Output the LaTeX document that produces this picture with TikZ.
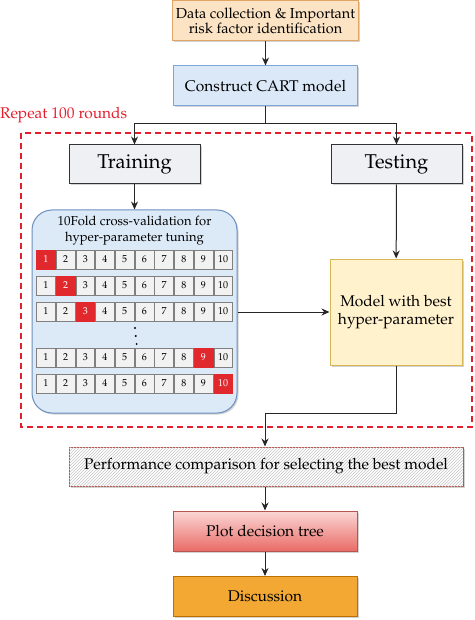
\documentclass[tikz,border=0pt]{standalone}
\usepackage[T1]{fontenc}
\usepackage{mathpazo}
\usepackage{tikz}
\usetikzlibrary{arrows.meta,shadows,patterns}
\definecolor{dataorange}{RGB}{251,227,195}
\definecolor{dataedge}{RGB}{224,165,100}
\definecolor{cartblue}{RGB}{218,232,248}
\definecolor{cartedge}{RGB}{126,166,216}
\definecolor{stepgray}{RGB}{238,240,244}
\definecolor{cvblue}{RGB}{220,234,248}
\definecolor{cvedge}{RGB}{108,142,191}
\definecolor{cellgray}{RGB}{242,242,242}
\definecolor{cellred}{RGB}{224,40,45}
\definecolor{modelyellow}{RGB}{255,242,204}
\definecolor{modeledge}{RGB}{214,182,86}
\definecolor{perfedge}{RGB}{184,84,80}
\definecolor{plottop}{RGB}{250,215,214}
\definecolor{plotbot}{RGB}{234,107,102}
\definecolor{discorange}{RGB}{242,168,50}
\definecolor{discedge}{RGB}{189,112,0}
\definecolor{repeatred}{RGB}{228,30,45}
\tikzset{
  boxshadow/.style={drop shadow={opacity=0.35, shadow xshift=1.5pt, shadow yshift=-1.5pt, fill=gray}},
  flowbox/.style={draw, line width=1pt, align=center, minimum width=184pt,
    minimum height=40pt, font=\fontsize{15.5}{18}\selectfont, boxshadow},
  stepbox/.style={flowbox, draw=black!80, fill=stepgray, minimum width=131pt,
    minimum height=39pt, font=\fontsize{20}{23}\selectfont},
  cell/.style={draw=gray, fill=cellgray, minimum width=18.8pt, minimum height=18.5pt,
    inner sep=0pt, font=\fontsize{10}{11}\selectfont,
    drop shadow={opacity=0.3, shadow xshift=0.8pt, shadow yshift=-0.8pt, fill=gray}},
  redcell/.style={cell, draw=cellred, fill=cellred, text=white},
  flow/.style={-{Stealth[length=8pt,width=7pt]}, line width=1pt, black!85},
}
\begin{document}
\begin{tikzpicture}[x=1pt, y=-1pt]
\useasboundingbox (0,0) rectangle (474,620);

% Repeat frame
\draw[repeatred, line width=1.4pt, dash pattern=on 6pt off 4pt] (21,133) rectangle (472,427);
\node[anchor=west, text=repeatred, font=\fontsize{15.5}{18}\selectfont, inner sep=0pt] (repeat) at (0,115) {Repeat 100 rounds};

% Top of the flow
\node[flowbox, draw=dataedge, fill=dataorange, font=\fontsize{14.5}{17}\selectfont] (data) at (265.5,21)
  {Data collection \& Important\\[-2pt]risk factor identification};
\node[flowbox, draw=cartedge, fill=cartblue] (cart) at (265.5,86) {Construct CART model};

\node[stepbox] (train) at (134.5,164.5) {Training};
\node[stepbox] (test) at (396.5,164.5) {Testing};

% Cross-validation block
\node[draw=cvedge, line width=1pt, fill=cvblue, rounded corners=20pt,
  minimum width=205pt, minimum height=203pt, boxshadow] (cv) at (134.5,311.5) {};
\node[align=center, font=\fontsize{13}{16}\selectfont] (cvtitle) at (134.5,231)
  {10Fold cross-validation for\\hyper-parameter tuning};
\foreach \r/\y in {1/259.5, 2/285.5, 3/311.5, 9/357.5, 10/383.5}{
  \foreach \c in {1,...,10}{
    \ifnum\c=\r
      \node[redcell] (c\r-\c) at ({36+19.7*(\c-0.5)},\y) {\c};
    \else
      \node[cell] (c\r-\c) at ({36+19.7*(\c-0.5)},\y) {\c};
    \fi
  }
}
\foreach \d in {0,1,2}
  \fill ({135+0.8*\d},{328+8*\d}) circle (1.1pt);

\node[flowbox, draw=modeledge, fill=modelyellow, minimum width=132pt,
  minimum height=106pt] (model) at (396,312) {Model with best\\hyper-parameter};

% Bottom of the flow
\node[flowbox, draw=perfedge, fill=white, minimum width=394pt, minimum height=39pt,
  postaction={pattern=north east lines, pattern color=gray!45}] (perf) at (266,466.5)
  {Performance comparison for selecting the best model};
\node[flowbox, draw=perfedge, top color=plottop, bottom color=plotbot] (plot) at (265,531)
  {Plot decision tree};
\node[flowbox, draw=discedge, fill=discorange] (disc) at (265,596.5) {Discussion};

% Connectors
\coordinate (split) at (265.5,124);
\coordinate (join) at (265,413);
\draw[flow] (data) -- (cart);
\draw[line width=1pt, black!85] (cart) -- (split);
\draw[flow] (split) -| (train);
\draw[flow] (split) -| (test);
\draw[flow] (train) -- (cv);
\draw[flow] (test) -- (model);
\draw[flow] (cv.east |- model.west) -- (model.west);
\draw[flow] (model.south) |- (join) -- (join |- perf.north);
\draw[flow] (perf.south -| join) -- (join |- plot.north);
\draw[flow] (plot) -- (disc);

\end{tikzpicture}
\end{document}
